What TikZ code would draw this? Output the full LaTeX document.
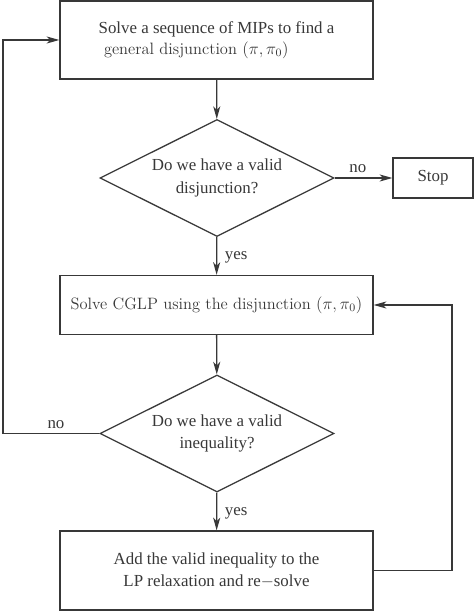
\documentclass[tikz,border=0pt]{standalone}
\usepackage{fontspec}
\setmainfont{Liberation Serif}
\usetikzlibrary{shapes.geometric,arrows.meta}
\newcommand{\cmtext}{\fontfamily{lmr}\fontsize{11.7}{14}\selectfont}

\begin{document}
\begin{tikzpicture}[x=0.025cm, y=0.025cm,
        every node/.style={font=\fontsize{12}{14}\selectfont},
        flowline/.style={line width=0.9pt, black!78},
        tip/.style={-{Stealth[length=9pt, width=5pt, inset=2.5pt]}},
        stepbox/.style={draw, flowline, fill=white,
            minimum width=7.825cm, inner sep=0pt},
        choice/.style={draw, flowline, diamond, aspect=2, align=center, inner sep=0pt,
            minimum width=5.85cm, minimum height=2.925cm},
        answer/.style={font=\fontsize{12}{14}\selectfont}]
    \useasboundingbox (0,0) rectangle (474,611);

    % steps and questions
    \node[stepbox, align=left, minimum height=1.95cm] (mips) at (216.5,571)
        {Solve a sequence of MIPs to find a\\[1pt]
         {\cmtext\ general disjunction $(\pi,\pi_0)$}};
    \node[choice] (disj) at (217,433) {Do we have a valid\\[2pt]disjunction?};
    \node[draw, flowline, minimum width=2cm, minimum height=1cm] (stop) at (433,433) {Stop};
    \node[stepbox, align=center, minimum height=1.475cm] (cglp) at (216.5,306)
        {\cmtext Solve CGLP using the disjunction $(\pi,\pi_0)$};
    \node[choice] (ineq) at (217,177.5) {Do we have a valid\\[2pt]inequality?};
    \node[stepbox, align=center, minimum height=1.975cm] (addcut) at (216.5,40.5)
        {Add the valid inequality to the\\[2pt]LP relaxation and re$-$solve};

    % connectors
    \coordinate (leftloop) at (3,0);
    \coordinate (rightloop) at (452,0);
    \draw[flowline, tip] (mips) -- (disj);
    \draw[flowline, tip] (disj) -- node[answer, above, pos=0.4] {no} (stop);
    \draw[flowline, tip] (disj) -- node[answer, right, pos=0.55, xshift=2pt] {yes} (cglp);
    \draw[flowline, tip] (cglp) -- (ineq);
    \draw[flowline, tip] (ineq) -- node[answer, right, pos=0.55, xshift=2pt] {yes} (addcut);
    \draw[flowline, tip] (ineq.west) -- node[answer, above, pos=0.45] {no} (ineq.west -| leftloop)
        |- (mips.west);
    \draw[flowline, tip] (addcut.east) -- (addcut.east -| rightloop) |- (cglp.east);
\end{tikzpicture}
\end{document}
